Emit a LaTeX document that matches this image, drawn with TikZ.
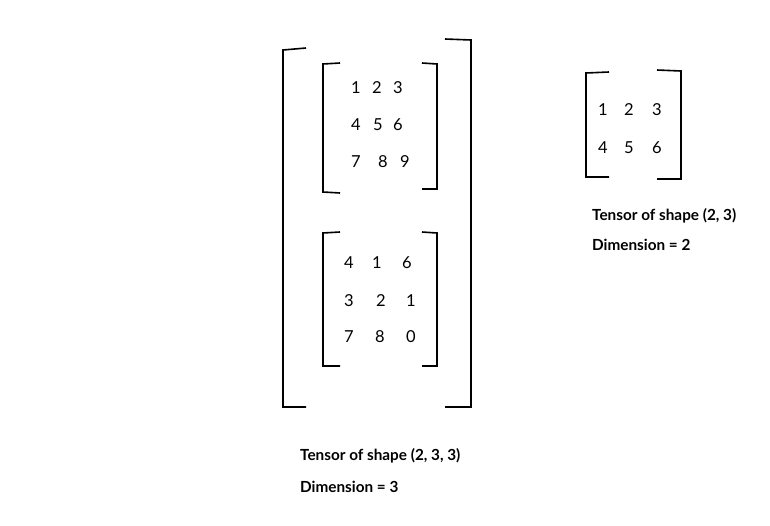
\documentclass[tikz,border=0pt]{standalone}
\usepackage{fontspec}
\setmainfont{Lato}
\begin{document}
\begin{tikzpicture}[x=1pt,y=-1pt,
  brk/.style={line width=1.6pt},
  num/.style={font=\fontsize{16.5}{17}\selectfont,inner sep=0pt},
  lbl/.style={font=\fontsize{15.3}{16}\selectfont\bfseries,anchor=west,inner sep=0pt}]
\useasboundingbox (0,0) rectangle (770,525);
% outer bracket
\draw[brk] (306,48)--(283,50)--(283,407)--(306,407);
\draw[brk] (445,39)--(471,40)--(471,407)--(445,407);
% first inner bracket
\draw[brk] (340,63)--(323,64)--(323,192)--(340,193);
\draw[brk] (422,63)--(437,64)--(437,189)--(422,189);
\node[num] (a11) at (356,88) {1};
\node[num] (a12) at (377,88) {2};
\node[num] (a13) at (398,88) {3};
\node[num] (a21) at (356,125) {4};
\node[num] (a22) at (378,125) {5};
\node[num] (a23) at (398,125) {6};
\node[num] (a31) at (356,162) {7};
\node[num] (a32) at (383,162) {8};
\node[num] (a33) at (405,162) {9};
% second inner bracket
\draw[brk] (340,232)--(323,233)--(323,366)--(340,366);
\draw[brk] (422,232)--(437,233)--(437,366)--(422,366);
\node[num] (b11) at (349,263) {4};
\node[num] (b12) at (377,263) {1};
\node[num] (b13) at (407,263) {6};
\node[num] (b21) at (349,301) {3};
\node[num] (b22) at (381,301) {2};
\node[num] (b23) at (411,301) {1};
\node[num] (b31) at (349,337) {7};
\node[num] (b32) at (380,337) {8};
\node[num] (b33) at (411,337) {0};
\node[lbl] (shape3) at (300,456) {Tensor of shape (2, 3, 3)};
\node[lbl] (dim3) at (300,487) {Dimension = 3};
% small matrix
\draw[brk] (609,72)--(586,73)--(586,177)--(609,177);
\draw[brk] (657,70)--(681,71)--(681,179)--(657,179);
\node[num] (c11) at (603,110) {1};
\node[num] (c12) at (629,110) {2};
\node[num] (c13) at (657,110) {3};
\node[num] (c21) at (603,148) {4};
\node[num] (c22) at (629,148) {5};
\node[num] (c23) at (657,148) {6};
\node[lbl] (shape2) at (592,216) {Tensor of shape (2, 3)};
\node[lbl] (dim2) at (592,245) {Dimension = 2};
\end{tikzpicture}
\end{document}
